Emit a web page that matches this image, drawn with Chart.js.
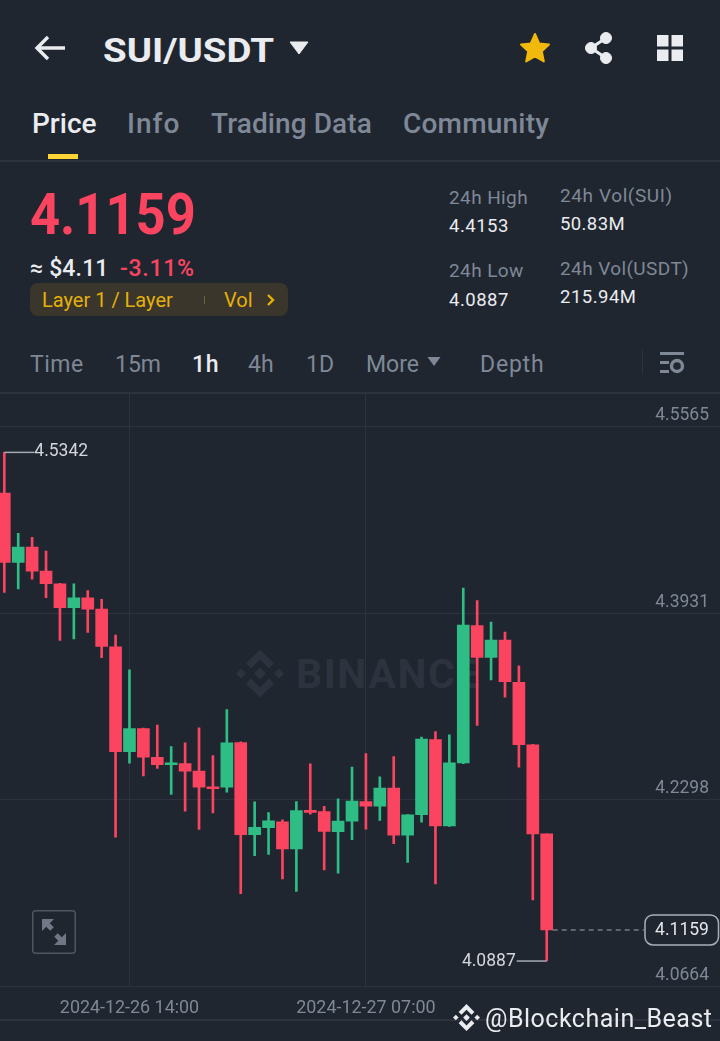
<!DOCTYPE html>
<html>
<head>
<meta charset="utf-8">
<script src="https://cdn.jsdelivr.net/npm/chart.js@4/dist/chart.umd.min.js"></script>
<style>
html,body{margin:0;padding:0;background:#1f2630;}
#page{position:relative;width:720px;height:1041px;overflow:hidden;background:#1f2630;font-family:Roboto,sans-serif;}
#page span{position:absolute;white-space:nowrap;line-height:1;transform:translateY(-50%);transform-origin:left center;}
#page svg{position:absolute;}
.rule{position:absolute;background:#2c333e;}
.gray{color:#7f8896;}
.white{color:#eaecef;}
.red{color:#fb4560;}
.gold{color:#e6b00c;}
#chart{position:absolute;left:0;top:393px;}
</style>
</head>
<body>
<div id="page">
  <svg width="0" height="0"><defs><symbol id="bn" viewBox="0 0 48 48">
    <polygon points="24,18 30,24 24,30 18,24"/><polygon points="0,24 5,19 10,24 5,29"/><polygon points="38,24 43,19 48,24 43,29"/>
    <polygon points="24,0 38,14 33,19 24,10 15,19 10,14"/><polygon points="24,48 38,34 33,29 24,38 15,29 10,34"/>
  </symbol></defs></svg>

  <svg style="left:34px;top:34px" width="32" height="28" fill="none" stroke="#eaecef" stroke-width="3.4"><path d="M2 14H31M14 3L3 14L14 25"/></svg>
  <span class="white" style="left:103px;top:50px;font-size:34px;font-weight:700;transform:translateY(-50%) scaleX(1.13)">SUI/USDT</span>
  <svg style="left:289px;top:41px" width="20" height="14" fill="#eaecef"><path d="M1 1H19L10 13Z" stroke="#eaecef" stroke-linejoin="round"/></svg>
  <svg style="left:518px;top:31px" width="34" height="34" fill="#f0b90b" stroke="#f0b90b" stroke-width="2" stroke-linejoin="round"><path d="M17 3L21.2 12.4L31 13.5L23.8 20.2L25.8 30.5L17 25.3L8.2 30.5L10.2 20.2L3 13.5L12.8 12.4Z"/></svg>
  <svg style="left:584px;top:32px" width="32" height="32" fill="#eaecef" stroke="#eaecef"><circle cx="22" cy="6" r="5.5"/><circle cx="7" cy="16" r="5.5"/><circle cx="22" cy="26" r="5.5"/><path d="M22 6L7 16L22 26" fill="none" stroke-width="3"/></svg>
  <svg style="left:656px;top:34px" width="28" height="28" fill="#eaecef"><rect x="1" y="1" width="11.5" height="11.5"/><rect x="15.5" y="1" width="11.5" height="11.5"/><rect x="1" y="15.5" width="11.5" height="11.5"/><rect x="15.5" y="15.5" width="11.5" height="11.5"/></svg>

  <span class="white" style="left:32px;top:124px;font-size:28px;font-weight:500">Price</span>
  <span class="gray" style="left:127px;top:124px;font-size:28px;font-weight:500;letter-spacing:1px">Info</span>
  <span class="gray" style="left:211px;top:124px;font-size:28px;font-weight:500;letter-spacing:0.1px">Trading Data</span>
  <span class="gray" style="left:403px;top:124px;font-size:28px;font-weight:500;letter-spacing:0.2px">Community</span>
  <div style="position:absolute;left:48px;top:154px;width:30px;height:5px;background:#fcd535"></div>
  <div class="rule" style="left:0;top:160px;width:720px;height:2px"></div>

  <span class="red" style="left:30px;top:214px;font-size:58px;font-weight:700;transform:translateY(-50%) scaleX(0.905)">4.1159</span>
  <span class="white" style="left:30px;top:268px;font-size:23px;font-weight:500;letter-spacing:0.15px">≈ $4.11</span>
  <span class="red" style="left:120px;top:268px;font-size:23px;font-weight:500;letter-spacing:0.7px">-3.11%</span>
  <div style="position:absolute;left:30px;top:283px;width:258px;height:33px;border-radius:8px;background:#3a362b"></div>
  <span class="gold" style="left:42px;top:300px;font-size:20px">Layer 1 / Layer</span>
  <div style="position:absolute;left:204px;top:296px;width:1px;height:8px;background:#6d6230"></div>
  <span class="gold" style="left:224px;top:300px;font-size:20px">Vol</span>
  <svg style="left:266px;top:293px" width="10" height="14" fill="none" stroke="#e6b00c" stroke-width="2.4"><path d="M2 2L7 7L2 12"/></svg>

  <span class="gray" style="left:449px;top:197px;font-size:19px;letter-spacing:0.4px">24h High</span>
  <span class="white" style="left:449px;top:226px;font-size:18.5px;letter-spacing:0.5px">4.4153</span>
  <span class="gray" style="left:560px;top:195px;font-size:19px;letter-spacing:0.6px">24h Vol(SUI)</span>
  <span class="white" style="left:560px;top:224px;font-size:18.5px;letter-spacing:0.4px">50.83M</span>
  <span class="gray" style="left:449px;top:270px;font-size:19px;letter-spacing:0.4px">24h Low</span>
  <span class="white" style="left:449px;top:300px;font-size:18.5px;letter-spacing:0.5px">4.0887</span>
  <span class="gray" style="left:560px;top:268px;font-size:19px;letter-spacing:0.4px">24h Vol(USDT)</span>
  <span class="white" style="left:560px;top:297px;font-size:18.5px;letter-spacing:0.5px">215.94M</span>

  <span class="gray" style="left:30px;top:364px;font-size:23px;letter-spacing:0.5px">Time</span>
  <span class="gray" style="left:115px;top:364px;font-size:23px">15m</span>
  <span class="white" style="left:192px;top:364px;font-size:23px;font-weight:500;letter-spacing:0.6px">1h</span>
  <span class="gray" style="left:248px;top:364px;font-size:23px">4h</span>
  <span class="gray" style="left:306px;top:364px;font-size:23px">1D</span>
  <span class="gray" style="left:366px;top:364px;font-size:23px">More</span>
  <svg style="left:427px;top:356px" width="14" height="11" fill="#7f8896"><path d="M0.5 1H13.5L7 10Z"/></svg>
  <span class="gray" style="left:480px;top:364px;font-size:23px;letter-spacing:0.8px">Depth</span>
  <div class="rule" style="left:642px;top:350px;width:1px;height:24px"></div>
  <svg style="left:660px;top:351px" width="26" height="24" fill="#7f8896"><rect x="0" y="1" width="24" height="3"/><rect x="0" y="10" width="9" height="3"/><rect x="0" y="19" width="9" height="3"/><circle cx="17" cy="15" r="5.5" fill="none" stroke="#7f8896" stroke-width="3.4"/></svg>
  <div class="rule" style="left:0;top:392px;width:720px;height:2px"></div>

  <svg style="left:236px;top:649px" width="48" height="49" fill="#2d333e"><use href="#bn"/></svg>
  <span style="left:296px;top:674px;font-size:41px;font-weight:700;letter-spacing:1.6px;color:#2d333e">BINANCE</span>

  <canvas id="chart" width="720" height="627"></canvas>

  <div class="rule" style="left:0;top:1019px;width:720px;height:2px"></div>
  <svg style="left:32px;top:910px" width="44" height="44" fill="none"><rect x="0.75" y="0.75" width="42.5" height="42.5" rx="3" stroke="#4d5560" stroke-width="1.5"/><path d="M14 13L30 31" stroke="none"/><path d="M15 14L20 19M29 30L24 25" stroke="#707885" stroke-width="5"/><path d="M10 9H22L10 21ZM34 35H22L34 23Z" fill="#707885"/></svg>
  <svg style="left:453px;top:1004px" width="27" height="27" fill="#eaecef"><use href="#bn"/></svg>
  <span class="white" style="left:485px;top:1018px;font-size:25px;letter-spacing:0.5px">@Blockchain_Beast</span>
</div>

<script>
// one candle per hour, index 9 is 12-26 14:00
const times = [
    '2024-12-26 05:00','2024-12-26 06:00','2024-12-26 07:00','2024-12-26 08:00','2024-12-26 09:00',
    '2024-12-26 10:00','2024-12-26 11:00','2024-12-26 12:00','2024-12-26 13:00','2024-12-26 14:00',
    '2024-12-26 15:00','2024-12-26 16:00','2024-12-26 17:00','2024-12-26 18:00','2024-12-26 19:00',
    '2024-12-26 20:00','2024-12-26 21:00','2024-12-26 22:00','2024-12-26 23:00','2024-12-27 00:00',
    '2024-12-27 01:00','2024-12-27 02:00','2024-12-27 03:00','2024-12-27 04:00','2024-12-27 05:00',
    '2024-12-27 06:00','2024-12-27 07:00','2024-12-27 08:00','2024-12-27 09:00','2024-12-27 10:00',
    '2024-12-27 11:00','2024-12-27 12:00','2024-12-27 13:00','2024-12-27 14:00','2024-12-27 15:00',
    '2024-12-27 16:00','2024-12-27 17:00','2024-12-27 18:00','2024-12-27 19:00','2024-12-27 20:00'
];
const opens = [
    4.4985,4.4378,4.4512,4.4302,4.4191,4.3981,4.4069,4.3969,4.3638,4.2720,
    4.2924,4.2672,4.2606,4.2617,4.2550,4.2413,4.2410,4.2801,4.1993,4.2054,
    4.2106,4.1870,4.2208,4.2197,4.2019,4.2112,4.2284,4.2243,4.2401,4.1989,
    4.2168,4.2827,4.2071,4.2623,4.3826,4.3546,4.3697,4.3329,4.2781,4.2001
];
const highs = [
    4.5342,4.4634,4.4599,4.4477,4.4196,4.4191,4.4132,4.4054,4.3741,4.3438,
    4.2928,4.2953,4.2766,4.2798,4.2930,4.2687,4.3090,4.2806,4.2282,4.2188,
    4.2124,4.2284,4.2615,4.2241,4.2308,4.2585,4.2705,4.2501,4.2678,4.2170,
    4.2848,4.2897,4.2869,4.4153,4.4045,4.3855,4.3767,4.3473,4.2786,4.2001
];
const lows = [
    4.4115,4.4147,4.4231,4.4069,4.3695,4.3709,4.3765,4.3543,4.1972,4.2620,
    4.2509,4.2573,4.2346,4.2199,4.2039,4.2185,4.2366,4.1478,4.1809,4.1820,
    4.1607,4.1496,4.2173,4.1686,4.1656,4.1949,4.2042,4.2118,4.1914,4.1750,
    4.2103,4.1563,4.2066,4.2615,4.2950,4.3350,4.3198,4.2585,4.1423,4.0887
];
const closes = [
    4.4378,4.4512,4.4302,4.4191,4.3981,4.4069,4.3969,4.3642,4.2720,4.2924,
    4.2672,4.2606,4.2620,4.2550,4.2410,4.2396,4.2798,4.1993,4.2057,4.2115,
    4.1870,4.2205,4.2188,4.2022,4.2112,4.2287,4.2243,4.2401,4.1989,4.2168,
    4.2830,4.2071,4.2623,4.3829,4.3546,4.3697,4.3333,4.2781,4.2001,4.1159
];
const priceTicks = [4.5565, 4.3931, 4.2298, 4.0664];
const timeTicks = [9, 26];
const highIndex = 0;
const lowIndex = 39;

const green = '#2ebd85';
const red = '#fb4560';
const candleColors = opens.map((o, i) => closes[i] >= o ? green : red);

const annotations = {
    id: 'annotations',
    afterDatasetsDraw(chart) {
        const c = chart.ctx;
        const x = chart.scales.x;
        const y = chart.scales.y;
        c.save();
        c.textBaseline = 'middle';
        c.font = '17.5px Roboto';

        // high marker
        const hx = x.getPixelForValue(highIndex);
        const hy = y.getPixelForValue(highs[highIndex]);
        c.strokeStyle = '#a4aab3';
        c.lineWidth = 1.5;
        c.beginPath();
        c.moveTo(hx, hy);
        c.lineTo(hx + 30, hy);
        c.stroke();
        c.fillStyle = '#d3d6db';
        c.textAlign = 'left';
        c.fillText(highs[highIndex].toFixed(4), hx + 30, hy - 1);

        // low marker
        const lx = x.getPixelForValue(lowIndex);
        const ly = y.getPixelForValue(lows[lowIndex]);
        c.beginPath();
        c.moveTo(lx, ly);
        c.lineTo(lx - 30, ly);
        c.stroke();
        c.textAlign = 'right';
        c.fillText(lows[lowIndex].toFixed(4), lx - 31, ly + 1);

        // last price line and box
        const py = y.getPixelForValue(closes[lowIndex]);
        c.setLineDash([5, 4]);
        c.strokeStyle = '#a0a6af';
        c.lineWidth = 1;
        c.beginPath();
        c.moveTo(lx + 6, py);
        c.lineTo(644, py);
        c.stroke();
        c.setLineDash([]);
        c.fillStyle = '#1f2630';
        c.strokeStyle = '#aab0b9';
        c.lineWidth = 1.5;
        c.beginPath();
        c.roundRect(645, py - 15, 73.5, 30, 8);
        c.fill();
        c.stroke();
        c.fillStyle = '#e4e6ea';
        c.textAlign = 'center';
        c.fillText(closes[lowIndex].toFixed(4), 682, py + 0.5);
        c.restore();
    }
};

new Chart(document.getElementById('chart'), {
    type: 'bar',
    data: {
        datasets: [{
            data: times.map((t, i) => ({x: i, y: [lows[i], highs[i]]})),
            backgroundColor: candleColors,
            barThickness: 2,
            grouped: false,
            order: 2
        }, {
            data: times.map((t, i) => ({x: i, y: [opens[i], closes[i]]})),
            backgroundColor: candleColors,
            barThickness: 12,
            minBarLength: 2,
            grouped: false,
            order: 1
        }]
    },
    options: {
        responsive: false,
        animation: false,
        devicePixelRatio: 1,
        layout: {padding: 0},
        plugins: {legend: {display: false}, tooltip: {enabled: false}},
        scales: {
            x: {
                type: 'linear',
                offset: false,
                min: -0.31,
                max: 51.46,
                afterBuildTicks: s => { s.ticks = timeTicks.map(v => ({value: v})); },
                afterFit: s => { s.height = 33.5; },
                border: {display: false},
                grid: {color: '#2c333e', lineWidth: 1, drawTicks: false, offset: false},
                ticks: {
                    autoSkip: false,
                    maxRotation: 0,
                    padding: 11,
                    color: '#7f8896',
                    font: {family: 'Roboto', size: 17.9},
                    callback: v => times[v]
                }
            },
            y: {
                position: 'right',
                min: 4.0664,
                max: 4.5862,
                afterBuildTicks: s => { s.ticks = priceTicks.map(v => ({value: v})); },
                afterFit: s => { s.width = 0; },
                border: {display: false},
                grid: {color: '#2c333e', lineWidth: 1, drawTicks: false},
                ticks: {
                    mirror: true,
                    padding: -11,
                    labelOffset: -11,
                    color: '#7f8896',
                    font: {family: 'Roboto', size: 17.5},
                    callback: v => v.toFixed(4)
                }
            }
        }
    },
    plugins: [annotations]
});
</script>
</body>
</html>
